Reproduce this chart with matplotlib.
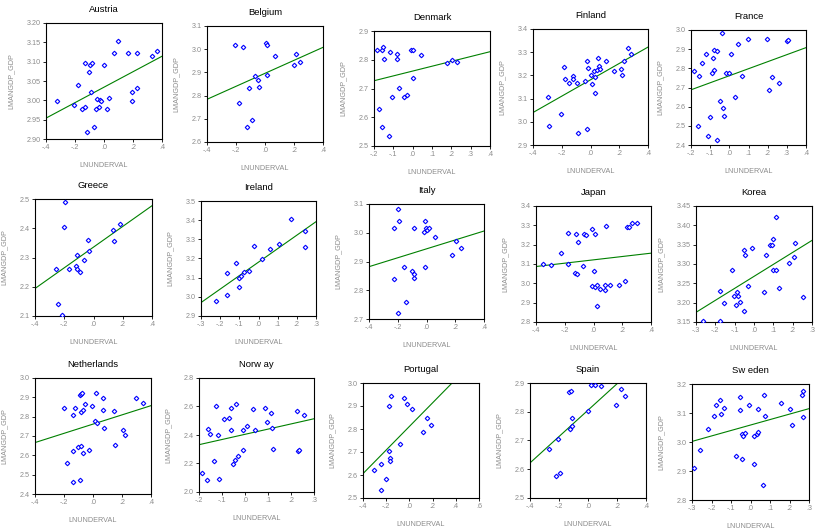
import numpy as np
import matplotlib
matplotlib.use("Agg")
import matplotlib.pyplot as plt

plt.rcParams['font.family'] = ['Liberation Sans', 'DejaVu Sans']

# scatter data (LNUNDERVAL, LMANGDP_GDP)
austria_x = [-0.326, -0.207, -0.177, -0.150, -0.131, -0.129, -0.115, -0.101, -0.097, -0.085,
             -0.092, -0.071, -0.055, -0.046, -0.037, -0.028, -0.023, 0.0, 0.018, 0.032,
             0.071, 0.099, 0.168, 0.191, 0.191, 0.225, 0.230, 0.329, 0.368]
austria_y = [2.997, 2.988, 3.040, 2.978, 2.983, 3.097, 2.919, 3.074, 3.091, 3.097,
             3.022, 2.931, 2.978, 3.003, 2.983, 3.002, 2.997, 3.091, 2.978, 3.006,
             3.122, 3.153, 3.122, 3.022, 2.997, 3.122, 3.032, 3.114, 3.127]

belgium_x = [-0.208, -0.150, -0.178, -0.109, -0.123, -0.088, -0.069, -0.046, -0.044, 0.005,
             0.012, 0.016, 0.069, 0.201, 0.215, 0.243]
belgium_y = [3.018, 3.011, 2.770, 2.831, 2.665, 2.694, 2.884, 2.869, 2.835, 3.025,
             3.016, 2.887, 2.970, 2.930, 2.978, 2.946]

denmark_x = [-0.186, -0.157, -0.152, -0.147, -0.117, -0.172, -0.157, -0.121, -0.107, -0.083,
             -0.083, -0.071, -0.045, -0.028, -0.009, 0.003, 0.003, 0.042, 0.178, 0.206, 0.230]
denmark_y = [2.833, 2.833, 2.845, 2.804, 2.827, 2.628, 2.567, 2.535, 2.669, 2.821,
             2.804, 2.702, 2.669, 2.676, 2.833, 2.833, 2.735, 2.818, 2.787, 2.798, 2.791]

finland_x = [-0.298, -0.291, -0.203, -0.187, -0.175, -0.149, -0.124, -0.122, -0.094, -0.089,
             -0.038, -0.026, -0.026, -0.019, 0.001, 0.011, 0.022, 0.029, 0.034, 0.045,
             0.055, 0.059, 0.069, 0.106, 0.166, 0.215, 0.219, 0.236, 0.259, 0.282]
finland_y = [3.108, 2.981, 3.032, 3.235, 3.183, 3.166, 3.198, 3.186, 3.166, 2.952,
             3.176, 3.264, 2.969, 3.231, 3.202, 3.162, 3.221, 3.123, 3.192, 3.224,
             3.274, 3.241, 3.227, 3.264, 3.221, 3.227, 3.203, 3.264, 3.318, 3.293]

france_x = [-0.184, -0.160, -0.162, -0.144, -0.123, -0.113, -0.101, -0.089, -0.083, -0.078,
            -0.078, -0.066, -0.063, -0.050, -0.037, -0.035, -0.030, -0.019, 0.0, 0.009,
            0.031, 0.047, 0.068, 0.099, 0.198, 0.208, 0.224, 0.261, 0.299, 0.308]
france_y = [2.787, 2.761, 2.497, 2.827, 2.875, 2.445, 2.544, 2.775, 2.853, 2.896,
            2.792, 2.891, 2.428, 2.627, 2.983, 2.591, 2.551, 2.775, 2.775, 2.875,
            2.653, 2.925, 2.761, 2.951, 2.955, 2.688, 2.754, 2.723, 2.941, 2.948]

greece_x = [-0.253, -0.242, -0.217, -0.198, -0.200, -0.166, -0.120, -0.111, -0.111, -0.093,
            -0.065, -0.035, -0.033, 0.130, 0.137, 0.178]
greece_y = [2.262, 2.140, 2.105, 2.490, 2.404, 2.260, 2.271, 2.310, 2.262, 2.249,
            2.291, 2.359, 2.322, 2.393, 2.358, 2.414]

ireland_x = [-0.223, -0.166, -0.166, -0.116, -0.102, -0.100, -0.093, -0.074, -0.050, -0.022,
             0.020, 0.060, 0.109, 0.170, 0.243, 0.244]
ireland_y = [2.980, 3.123, 3.010, 3.178, 3.053, 3.100, 3.109, 3.131, 3.137, 3.265,
             3.197, 3.248, 3.276, 3.406, 3.258, 3.345]

italy_x = [-0.226, -0.226, -0.198, -0.195, -0.191, -0.156, -0.144, -0.098, -0.088, -0.084,
           -0.084, -0.016, -0.007, -0.007, -0.002, 0.002, 0.014, 0.060, 0.179, 0.207, 0.237]
italy_y = [3.015, 2.838, 3.081, 2.722, 3.041, 2.880, 2.760, 2.868, 2.844, 2.855,
           3.015, 3.001, 3.041, 2.880, 3.015, 3.010, 3.015, 2.986, 2.923, 2.971, 2.946]

japan_x = [-0.351, -0.298, -0.227, -0.180, -0.180, -0.129, -0.120, -0.116, -0.111, -0.072,
           -0.069, -0.049, -0.012, -0.007, 0.002, 0.007, 0.011, 0.023, 0.021, 0.042,
           0.079, 0.081, 0.090, 0.118, 0.176, 0.222, 0.231, 0.250, 0.266, 0.303]
japan_y = [3.101, 3.096, 3.156, 3.259, 3.099, 3.053, 3.254, 3.048, 3.214, 3.092,
           3.254, 3.249, 3.283, 2.984, 3.065, 3.254, 2.981, 2.993, 2.883, 2.972,
           2.991, 2.967, 3.297, 2.991, 2.991, 3.011, 3.290, 3.293, 3.314, 3.311]

korea_x = [-0.264, -0.178, -0.178, -0.157, -0.112, -0.105, -0.093, -0.088, -0.081, -0.074,
           -0.050, -0.053, -0.045, -0.033, -0.009, 0.053, 0.060, 0.084, 0.093, 0.097,
           0.098, 0.116, 0.116, 0.129, 0.179, 0.205, 0.210, 0.252]
korea_y = [3.153, 3.229, 3.152, 3.199, 3.285, 3.216, 3.195, 3.227, 3.218, 3.203,
           3.179, 3.337, 3.324, 3.244, 3.341, 3.227, 3.324, 3.348, 3.350, 3.364,
           3.285, 3.421, 3.285, 3.238, 3.302, 3.317, 3.355, 3.214]

netherlands_x = [-0.199, -0.179, -0.137, -0.137, -0.137, -0.123, -0.103, -0.091, -0.089, -0.084,
                 -0.082, -0.077, -0.084, -0.068, -0.068, -0.056, -0.029, -0.006, 0.013, 0.024,
                 0.029, 0.070, 0.070, 0.073, 0.146, 0.151, 0.209, 0.222, 0.294, 0.347]
netherlands_y = [2.844, 2.559, 2.810, 2.620, 2.464, 2.844, 2.642, 2.910, 2.471, 2.917,
                 2.824, 2.922, 2.649, 2.836, 2.611, 2.867, 2.627, 2.855, 2.779, 2.922,
                 2.765, 2.896, 2.837, 2.741, 2.827, 2.654, 2.730, 2.704, 2.896, 2.869]

norway_x = [-0.187, -0.165, -0.159, -0.152, -0.136, -0.126, -0.117, -0.113, -0.091, -0.070,
            -0.061, -0.061, -0.052, -0.045, -0.038, -0.032, -0.009, -0.009, 0.007, 0.035,
            0.045, 0.086, 0.096, 0.114, 0.116, 0.122, 0.226, 0.229, 0.236, 0.257]
norway_y = [2.136, 2.082, 2.439, 2.409, 2.215, 2.607, 2.402, 2.089, 2.514, 2.521,
            2.591, 2.437, 2.199, 2.222, 2.619, 2.250, 2.437, 2.292, 2.463, 2.584,
            2.437, 2.591, 2.491, 2.554, 2.449, 2.301, 2.568, 2.290, 2.297, 2.542]

portugal_x = [-0.304, -0.246, -0.249, -0.206, -0.180, -0.174, -0.168, -0.168, -0.162, -0.081,
              -0.043, -0.017, 0.026, 0.113, 0.154, 0.183]
portugal_y = [2.620, 2.649, 2.536, 2.584, 2.899, 2.703, 2.674, 2.662, 2.943, 2.736,
              2.936, 2.910, 2.888, 2.787, 2.849, 2.819]

spain_x = [-0.266, -0.220, -0.204, -0.193, -0.128, -0.119, -0.121, -0.110, -0.110, -0.003,
           0.022, 0.045, 0.089, 0.190, 0.227, 0.252]
spain_y = [2.672, 2.578, 2.706, 2.587, 2.868, 2.871, 2.740, 2.778, 2.752, 2.801,
           2.894, 2.894, 2.888, 2.825, 2.878, 2.854]

sweden_x = [-0.291, -0.257, -0.218, -0.187, -0.178, -0.158, -0.149, -0.135, -0.075, -0.055,
            -0.055, -0.046, -0.043, -0.036, -0.029, -0.010, 0.017, 0.017, 0.031, 0.038,
            0.041, 0.065, 0.071, 0.076, 0.155, 0.203, 0.211, 0.263, 0.268, 0.268]
sweden_y = [2.912, 2.972, 3.044, 3.090, 3.126, 3.145, 3.096, 3.117, 2.951, 3.155,
            3.109, 3.027, 2.941, 3.021, 3.031, 3.126, 3.021, 2.924, 3.027, 3.115,
            3.036, 2.852, 3.161, 3.090, 3.134, 3.115, 3.059, 3.163, 3.175, 3.087]

# fitted line values at the left and right x limits
fit_left = [2.954, 2.784, 2.727, 3.040, 2.688, 2.194, 2.970, 2.882, 3.087, 3.175,
            2.666, 2.332, 2.606, 2.622, 3.002]
fit_right = [3.114, 3.008, 2.828, 3.322, 2.908, 2.477, 3.392, 3.006, 3.156, 3.361,
             2.857, 2.514, 3.119, 2.989, 3.115]

countries = ['Austria', 'Belgium', 'Denmark', 'Finland', 'France',
             'Greece', 'Ireland', 'Italy', 'Japan', 'Korea',
             'Netherlands', 'Norw ay', 'Portugal', 'Spain', 'Sw eden']
xs = [austria_x, belgium_x, denmark_x, finland_x, france_x,
      greece_x, ireland_x, italy_x, japan_x, korea_x,
      netherlands_x, norway_x, portugal_x, spain_x, sweden_x]
ys = [austria_y, belgium_y, denmark_y, finland_y, france_y,
      greece_y, ireland_y, italy_y, japan_y, korea_y,
      netherlands_y, norway_y, portugal_y, spain_y, sweden_y]

# axis ranges: (xmin, xmax, xstep), (ymin, ymax, ystep, decimals)
x_axes = [(-0.4, 0.4, 0.2), (-0.4, 0.4, 0.2), (-0.2, 0.4, 0.1), (-0.4, 0.4, 0.2), (-0.2, 0.4, 0.1),
          (-0.4, 0.4, 0.2), (-0.3, 0.3, 0.1), (-0.4, 0.4, 0.2), (-0.4, 0.4, 0.2), (-0.3, 0.3, 0.1),
          (-0.4, 0.4, 0.2), (-0.2, 0.3, 0.1), (-0.4, 0.6, 0.2), (-0.4, 0.4, 0.2), (-0.3, 0.3, 0.1)]
y_axes = [(2.90, 3.20, 0.05, 2), (2.6, 3.1, 0.1, 1), (2.5, 2.9, 0.1, 1), (2.9, 3.4, 0.1, 1), (2.4, 3.0, 0.1, 1),
          (2.1, 2.5, 0.1, 1), (2.9, 3.5, 0.1, 1), (2.7, 3.1, 0.1, 1), (2.8, 3.4, 0.1, 1), (3.15, 3.45, 0.05, 2),
          (2.4, 3.0, 0.1, 1), (2.0, 2.8, 0.2, 1), (2.5, 3.0, 0.1, 1), (2.5, 2.9, 0.1, 1), (2.8, 3.2, 0.1, 1)]

# axes boxes in pixels (left, top, right, bottom)
boxes = [(46, 23, 162, 139), (207, 26, 323, 142), (374, 31, 490, 146), (533, 29, 648, 145), (691, 30, 806, 145),
         (35, 199, 152, 316), (201, 201, 316, 316), (369, 204, 484, 319), (536, 206, 651, 322), (696, 206, 812, 322),
         (35, 378, 151, 494), (199, 378, 314, 492), (363, 383, 479, 498), (530, 383, 646, 498), (692, 384, 809, 500)]

W, H = 815, 531
GREY = '#8c8c8c'


def short_fmt(v):
    s = f"{v:.1f}"
    s = s.replace("0.", ".")
    return s


fig = plt.figure(figsize=(W / 100, H / 100), dpi=100)

for i in range(len(countries)):
    l, t, r, b = boxes[i]
    ax = fig.add_axes([l / W, 1 - b / H, (r - l) / W, (b - t) / H])
    xmin, xmax, xstep = x_axes[i]
    ymin, ymax, ystep, dec = y_axes[i]

    ax.plot([xmin, xmax], [fit_left[i], fit_right[i]], color='#008000', lw=0.8, zorder=2)
    ax.plot(xs[i], ys[i], linestyle='none', marker='D', markersize=2.3,
            markerfacecolor='white', markeredgecolor='#0000ff', markeredgewidth=0.8, zorder=3)

    ax.set_xlim(xmin, xmax)
    ax.set_ylim(ymin, ymax)
    xt = np.round(np.arange(xmin, xmax + xstep / 2, xstep), 3)
    yt = np.round(np.arange(ymin, ymax + ystep / 2, ystep), 3)
    ax.set_xticks(xt)
    ax.set_xticklabels([short_fmt(v) for v in xt])
    ax.set_yticks(yt)
    ax.set_yticklabels([f"{v:.{dec}f}" for v in yt])
    ax.tick_params(axis='both', labelsize=5.2, labelcolor=GREY, length=2, width=0.6,
                   direction='out', pad=1.5, top=False, right=False)
    for sp in ax.spines.values():
        sp.set_linewidth(0.8)
        sp.set_color('black')

    ax.set_title(countries[i], fontsize=6.8, pad=8)
    ax.set_xlabel('LNUNDERVAL', fontsize=5.2, color=GREY, labelpad=8)
    ax.set_ylabel('LMANGDP_GDP', fontsize=5.2, color=GREY, labelpad=9)

fig.savefig('out.png', dpi=100)
